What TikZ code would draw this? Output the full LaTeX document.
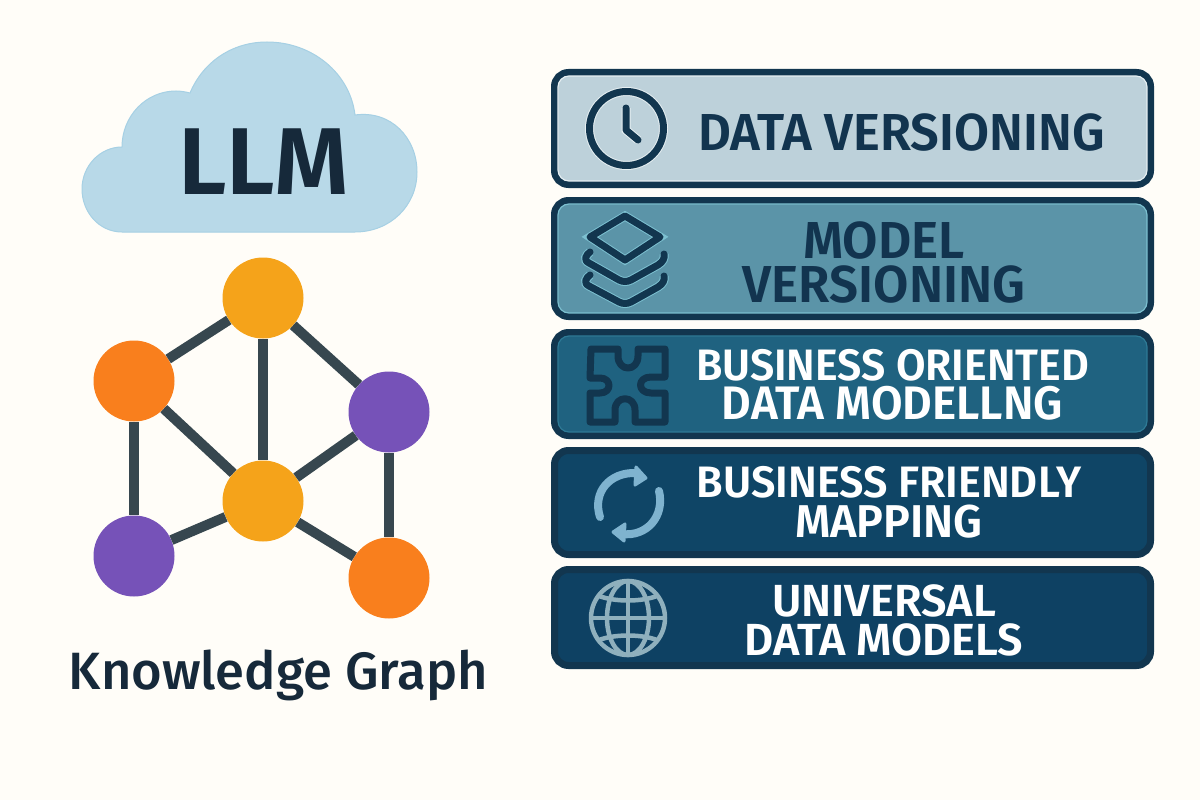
\documentclass[tikz,border=0pt]{standalone}
\usepackage{fontspec}
\setmainfont{Fira Sans}[BoldFont={Fira Sans SemiBold}]
\newfontfamily\medfont{Fira Sans Medium}
\definecolor{bgc}{HTML}{FFFDF8}
\definecolor{cloudc}{HTML}{B8D9E8}
\definecolor{cloudl}{HTML}{A6D0E4}
\definecolor{inkc}{HTML}{16293A}
\definecolor{edgec}{HTML}{37474F}
\definecolor{yelc}{HTML}{F5A31A}
\definecolor{orac}{HTML}{F97F1D}
\definecolor{purc}{HTML}{7652B8}
\definecolor{navy}{HTML}{12344F}
\definecolor{navyb}{HTML}{12364F}
\definecolor{fa}{HTML}{BDD1DA}
\definecolor{fb}{HTML}{5B94A8}
\definecolor{fc}{HTML}{1F6280}
\definecolor{fd}{HTML}{0F4566}
\definecolor{fe}{HTML}{0E4163}
\definecolor{la}{HTML}{E6EFF2}
\definecolor{lb}{HTML}{7CC0D0}
\definecolor{lc}{HTML}{2E7A96}
\definecolor{syncc}{HTML}{7FB3CF}
\definecolor{globec}{HTML}{8FB0BD}
\tikzset{
  x=1pt,y=-1pt,
  gnode/.style={circle,minimum size=81pt,inner sep=0pt,draw=none},
  gedge/.style={edgec,line width=10pt},
  panel/.style={rectangle,rounded corners=14pt,draw=navyb,line width=7pt,inner sep=0pt,outer sep=0pt,anchor=north west},
  rim/.style={rectangle,rounded corners=11pt,line width=1.2pt,inner sep=0pt,outer sep=0pt,anchor=north west},
  lab/.style={align=center,inner sep=0pt,transform shape},
  icon/.style={navyb,line width=7pt,line cap=round,line join=round},
  halo/.style={preaction={draw=#1,line width=9pt}},
}
\begin{document}
\begin{tikzpicture}
\useasboundingbox (0,0) rectangle (1200,800);
\fill[bgc] (0,0) rectangle (1200,800);
% cloud
\draw[fill=cloudc,draw=cloudl,line width=1pt]
 (122,232) .. controls (99,232) and (82,212) .. (82,189)
 .. controls (82,166) and (100,147) .. (122,147)
 .. controls (122,116) and (146,91) .. (176,91)
 .. controls (181,91) and (186,92) .. (190,93)
 .. controls (203,62) and (232,42) .. (267,42)
 .. controls (312,42) and (350,73) .. (355,115)
 .. controls (391,110) and (417,138) .. (417,172)
 .. controls (417,206) and (390,232) .. (355,232) -- cycle;
\node[font=\fontsize{95}{95}\selectfont\bfseries,text=inkc,inner sep=0pt] (llm) at (263.5,161.5) {LLM};
% graph
\node[gnode,fill=yelc] (n1) at (263,298) {};
\node[gnode,fill=orac] (n2) at (134,381) {};
\node[gnode,fill=purc] (n3) at (389,412) {};
\node[gnode,fill=yelc] (n4) at (263,501) {};
\node[gnode,fill=purc] (n5) at (134,556) {};
\node[gnode,fill=orac] (n6) at (389,578) {};
\draw[gedge] (n1) -- (n2);
\draw[gedge] (n1) -- (n4);
\draw[gedge] (n1) -- (n3);
\draw[gedge] (n2) -- (n5);
\draw[gedge] (n2) -- (n4);
\draw[gedge] (n3) -- (n4);
\draw[gedge] (n3) -- (n6);
\draw[gedge] (n4) -- (n5);
\draw[gedge] (n4) -- (n6);
\node[font=\medfont\fontsize{52.5}{52.5}\selectfont,text=inkc,inner sep=0pt] (kg) at (278.5,675) {Knowledge Graph};
% panels
\node[panel,fill=fa,minimum width=596pt,minimum height=112pt] (p1) at (554.5,72.5) {};
\node[panel,fill=fb,minimum width=596pt,minimum height=116pt] (p2) at (554.5,200.5) {};
\node[panel,fill=fc,minimum width=596pt,minimum height=103pt] (p3) at (554.5,332.5) {};
\node[panel,fill=fd,minimum width=596pt,minimum height=104pt] (p4) at (554.5,450.5) {};
\node[panel,fill=fe,minimum width=596pt,minimum height=96pt] (p5) at (554.5,569.5) {};
\node[rim,draw=la,minimum width=589pt,minimum height=105pt] (r1) at (558,76) {};
\node[rim,draw=lb,minimum width=589pt,minimum height=109pt] (r2) at (558,204) {};
\node[rim,draw=lc,minimum width=589pt,minimum height=96pt] (r3) at (558,336) {};
% labels
\node[lab,text=navy,font=\fontsize{52}{52}\selectfont\bfseries,xscale=0.976] (t1) at (901.5,133) {DATA VERSIONING};
\node[lab,text=navy,font=\fontsize{52}{44}\selectfont\bfseries,xscale=0.986] (t2) at (884,263) {MODEL\\VERSIONING};
\node[lab,text=white,font=\fontsize{44}{39}\selectfont\bfseries,xscale=0.973] (t3) at (892.5,385) {BUSINESS ORIENTED\\{\fontsize{47}{39}\selectfont DATA MODELLNG}};
\node[lab,text=white,font=\fontsize{44}{40}\selectfont\bfseries,xscale=0.98] (t4) at (889,502) {BUSINESS FRIENDLY\\{\fontsize{46}{40}\selectfont MAPPING}};
\node[lab,text=white,font=\fontsize{45}{39}\selectfont\bfseries] (t5) at (884,620) {UNIVERSAL\\DATA MODELS};
% clock
\draw[icon,halo=la] (626.5,128.5) circle[radius=37];
\draw[icon,halo=la] (626,108) -- (626,130) -- (638,140);
% layers
\draw[icon,halo=lb] (625,216) -- (660,237) -- (625,260) -- (590,237) -- cycle;
\draw[icon,halo=lb] (590,252) .. controls (586,255) and (583,260) .. (589,263) -- (619,280) .. controls (623,282) and (627,282) .. (631,280) -- (658,265) .. controls (663,262) and (665,258) .. (664,254);
\draw[icon,halo=lb] (590,275) .. controls (586,278) and (583,283) .. (589,286) -- (619,302) .. controls (623,304) and (627,304) .. (631,302) -- (658,287) .. controls (663,284) and (665,280) .. (664,276);
% puzzle
\draw[navyb,line width=7pt,line join=round]
 (591,349) -- (618,349) -- (618,356) .. controls (618,372) and (638,372) .. (638,356) -- (638,349)
 -- (665,349) -- (665,377) -- (651,377) .. controls (637,377) and (637,393) .. (651,393) -- (665,393)
 -- (665,422) -- (635,422) -- (635,410) .. controls (635,395) and (615,395) .. (615,410) -- (615,422)
 -- (590,422) -- (590,393) -- (600,393) .. controls (612,393) and (612,378) .. (600,378) -- (590,378) -- cycle;
% sync
\draw[syncc,line width=8pt,line cap=round] (600,517) .. controls (592,492) and (610,472) .. (636,473);
\fill[syncc,draw=syncc,line width=3pt,line join=round] (636,467) -- (646,478) -- (635,485) -- cycle;
\draw[syncc,line width=8pt,line cap=round] (659,491) .. controls (665,516) and (647,537) .. (622,534);
\fill[syncc,draw=syncc,line width=3pt,line join=round] (625,524) -- (613,532) -- (624,541) -- cycle;
% globe
\begin{scope}[globec,line width=4.5pt]
\draw (628,618) circle[radius=37];
\draw (628,581) -- (628,655);
\draw (591,618) -- (665,618);
\draw (628,618) ellipse[x radius=21,y radius=37];
\draw (599,596) .. controls (615,602) and (641,602) .. (657,596);
\draw (599,640) .. controls (615,634) and (641,634) .. (657,640);
\end{scope}
\end{tikzpicture}
\end{document}
